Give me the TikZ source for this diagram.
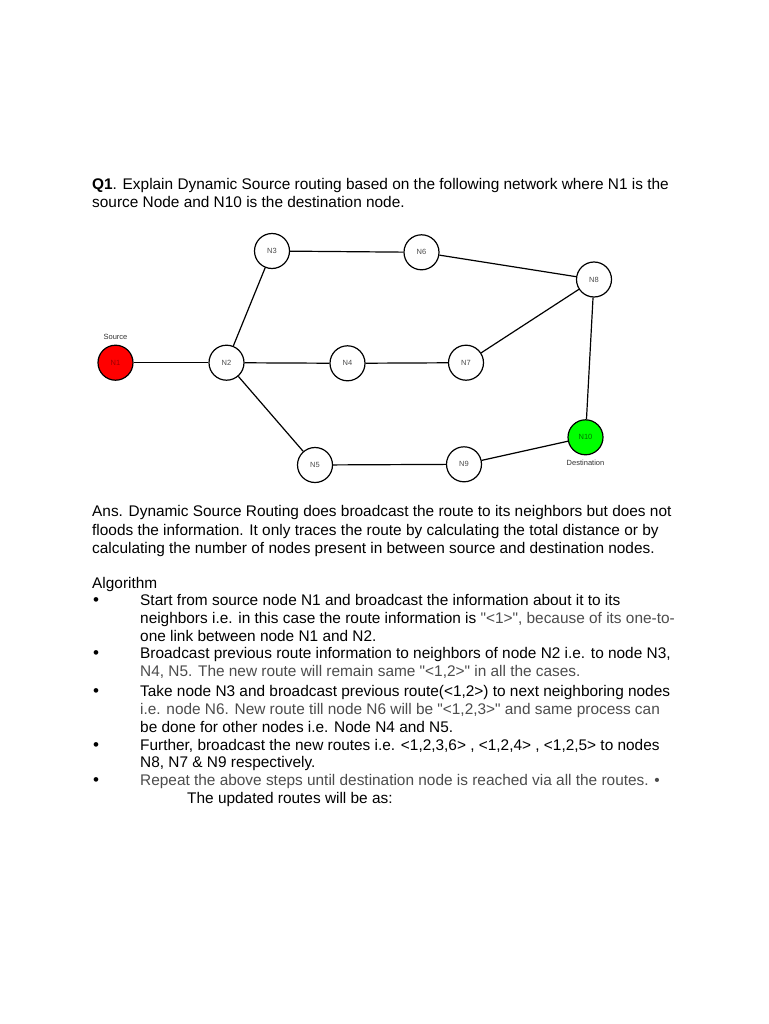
\documentclass[tikz,border=0pt]{standalone}
\usepackage{fontspec}
\setmainfont{Liberation Sans}
\usetikzlibrary{positioning}
\newcommand{\dq}{\textquotedbl}

\begin{document}
\begin{tikzpicture}[x=1pt,y=-1pt,
    net_node/.style ={circle, draw=black, line width=1.2pt, fill=white,
      minimum size=35pt, inner sep=0pt,
      font=\fontsize{7.5}{8}\selectfont, text=black!70},
    net_src/.style ={net_node, fill=red, text=red!60!black},
    net_dst/.style ={net_node, fill=green, text=green!45!black},
    tag/.style ={font=\fontsize{7.5}{9}\selectfont, text=black!80},
    line/.style ={draw, line width=1.2pt},
    txt/.style ={anchor=base west, inner sep=0pt,
      font=\fontsize{15.4}{18}\selectfont},
    txt_light/.style ={txt, text=black!70},
    dot/.style ={anchor=base west, inner sep=0pt,
      font=\fontsize{17}{18}\selectfont}]
    \useasboundingbox[fill=white] (0,0) rectangle (768,1024);

    % question
    \node[txt] (q_a) at (92,190) {\textbf{Q1}. Explain Dynamic Source routing based on the following network where N1 is the};
    \node[txt] (q_b) at (92,208) {source Node and N10 is the destination node.};

    % network - nodes
    \node[net_src] (n1) at (115.5,362.7) {N1};
    \node[net_node] (n2) at (226.5,362.7) {N2};
    \node[net_node] (n3) at (272,251) {N3};
    \node[net_node] (n6) at (421.5,252.3) {N6};
    \node[net_node] (n8) at (594,279.5) {N8};
    \node[net_node] (n4) at (347.5,363.3) {N4};
    \node[net_node] (n7) at (466,362.7) {N7};
    \node[net_node] (n5) at (315,465) {N5};
    \node[net_node] (n9) at (464,464.3) {N9};
    \node[net_dst] (n10) at (585.5,437.3) {N10};
    \node[tag, above=1pt of n1] (src_tag) {Source};
    \node[tag, below=1pt of n10] (dst_tag) {Destination};

    % network - links
    \draw[line] (n1) -- (n2);
    \draw[line] (n2) -- (n3);
    \draw[line] (n2) -- (n4);
    \draw[line] (n2) -- (n5);
    \draw[line] (n3) -- (n6);
    \draw[line] (n6) -- (n8);
    \draw[line] (n4) -- (n7);
    \draw[line] (n7) -- (n8);
    \draw[line] (n8) -- (n10);
    \draw[line] (n5) -- (n9);
    \draw[line] (n9) -- (n10);

    % answer
    \node[txt] (ans_a) at (92,516) {Ans. Dynamic Source Routing does broadcast the route to its neighbors but does not};
    \node[txt] (ans_b) at (92,535) {floods the information. It only traces the route by calculating the total distance or by};
    \node[txt] (ans_c) at (92,553) {calculating the number of nodes present in between source and destination nodes.};

    % algorithm
    \node[txt] (algo) at (92,588) {Algorithm};
    \node[dot] (dot_a) at (93,605) {\textbullet};
    \node[txt] (step_a1) at (140,605) {Start from source node N1 and broadcast the information about it to its};
    \node[txt] (step_a2) at (140,623) {neighbors i.e. in this case the route information is {\color{black!70}\dq<1>\dq, because of its one-to-}};
    \node[txt] (step_a3) at (140,641) {one link between node N1 and N2.};
    \node[dot] (dot_b) at (93,658) {\textbullet};
    \node[txt] (step_b1) at (140,658) {Broadcast previous route information to neighbors of node N2 i.e. to node N3,};
    \node[txt_light] (step_b2) at (140,676) {N4, N5. The new route will remain same \dq<1,2>\dq\ in all the cases.};
    \node[dot] (dot_c) at (93,696) {\textbullet};
    \node[txt] (step_c1) at (140,696) {Take node N3 and broadcast previous route(<1,2>) to next neighboring nodes};
    \node[txt_light] (step_c2) at (140,714) {i.e. node N6. New route till node N6 will be \dq<1,2,3>\dq\ and same process can};
    \node[txt] (step_c3) at (140,732) {be done for other nodes i.e. Node N4 and N5.};
    \node[dot] (dot_d) at (93,750) {\textbullet};
    \node[txt] (step_d1) at (140,750) {Further, broadcast the new routes i.e. <1,2,3,6> , <1,2,4> , <1,2,5> to nodes};
    \node[txt] (step_d2) at (140,767) {N8, N7 \& N9 respectively.};
    \node[dot] (dot_e) at (93,785) {\textbullet};
    \node[txt_light] (step_e1) at (140,785) {Repeat the above steps until destination node is reached via all the routes. \textbullet};
    \node[txt] (step_e2) at (187,803) {The updated routes will be as:};
\end{tikzpicture}
\end{document}
